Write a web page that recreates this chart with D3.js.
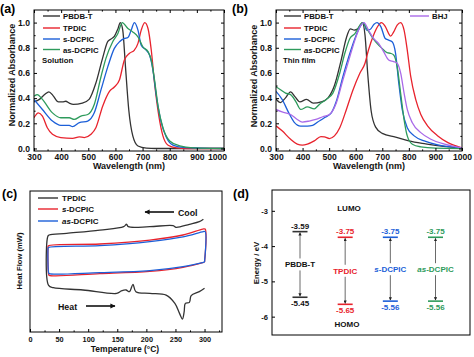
<!DOCTYPE html>
<html><head><meta charset="utf-8">
<script src="https://cdn.jsdelivr.net/npm/d3@7"></script>
<style>
body{margin:0;background:#fff}
svg text{font-family:"Liberation Sans",Arial,Helvetica,sans-serif;font-weight:bold}
</style>
</head><body>
<svg id="chart" width="474" height="357"></svg>
<script>
// ---------- DATA ----------
// (a) solution absorbance: [wavelength nm, normalized absorbance]
const solPBDBT = [[300,0.37],[320,0.39],[340,0.43],[355,0.45],[370,0.42],[390,0.37],[405,0.37],[417,0.375],[430,0.36],[445,0.35],[478,0.36],[503,0.39],[528,0.52],[553,0.72],[572,0.85],[584,0.87],[596,0.89],[609,0.95],[618,1.0],[627,0.94],[637,0.65],[649,0.31],[664,0.10],[683,0.02],[714,0.003],[750,0],[1000,0]];
const solTPDIC = [[300,0.244],[316,0.283],[331,0.257],[349,0.165],[368,0.113],[399,0.087],[442,0.081],[467,0.092],[485,0.087],[510,0.113],[528,0.165],[553,0.336],[578,0.454],[596,0.488],[615,0.546],[633,0.703],[652,0.756],[670,0.782],[683,0.835],[695,0.94],[708,1.0],[720,0.953],[732,0.782],[744,0.52],[760,0.257],[775,0.10],[794,0.026],[825,0.005],[860,0],[1000,0]];
const solSDCPIC = [[300,0.39],[331,0.31],[368,0.218],[399,0.184],[430,0.184],[442,0.173],[467,0.205],[498,0.218],[522,0.283],[547,0.467],[572,0.65],[596,0.795],[615,0.848],[633,0.874],[646,0.882],[658,0.94],[670,1.0],[683,0.94],[695,0.82],[714,0.78],[726,0.74],[738,0.625],[751,0.415],[769,0.205],[788,0.087],[812,0.026],[849,0.008],[911,0.003],[1000,0]];
const solASDCPIC = [[300,0.415],[312,0.428],[331,0.39],[368,0.283],[399,0.244],[430,0.244],[448,0.231],[473,0.257],[498,0.27],[522,0.35],[547,0.572],[565,0.716],[590,0.848],[609,0.913],[625,1.0],[646,0.953],[664,0.926],[683,0.887],[701,0.808],[720,0.769],[732,0.703],[744,0.546],[757,0.336],[775,0.165],[800,0.06],[837,0.021],[886,0.005],[1000,0]];
// (b) thin film absorbance
const filmPBDBT = [[300,0.394],[317,0.365],[335,0.40],[355,0.45],[372,0.41],[390,0.37],[415,0.39],[440,0.36],[470,0.37],[495,0.40],[520,0.50],[545,0.70],[565,0.88],[580,0.95],[595,0.94],[608,0.95],[625,1.0],[635,0.9],[645,0.6],[658,0.3],[675,0.17],[700,0.12],[750,0.09],[800,0.06],[850,0.04],[900,0.025],[950,0.012],[1000,0.003]];
const filmTPDIC = [[300,0.18],[323,0.14],[355,0.073],[380,0.034],[399,0.026],[418,0.034],[444,0.06],[469,0.094],[482,0.092],[501,0.079],[520,0.10],[540,0.165],[565,0.31],[590,0.467],[616,0.6],[635,0.677],[648,0.782],[667,0.9],[686,0.98],[696,1.0],[711,0.97],[724,0.913],[731,0.892],[743,0.926],[756,0.98],[769,1.0],[782,0.94],[794,0.782],[807,0.572],[826,0.388],[845,0.27],[871,0.178],[909,0.10],[947,0.047],[1000,0.005]];
const filmSDCPIC = [[300,0.454],[323,0.39],[348,0.283],[368,0.21],[393,0.178],[418,0.178],[438,0.184],[457,0.21],[482,0.244],[508,0.283],[527,0.375],[552,0.572],[578,0.756],[597,0.874],[616,0.966],[629,1.0],[641,0.94],[654,0.945],[669,0.987],[680,1.0],[695,0.966],[711,0.874],[724,0.861],[737,0.848],[750,0.756],[762,0.52],[775,0.31],[794,0.165],[820,0.10],[858,0.06],[909,0.029],[960,0.013],[1000,0.005]];
const filmASDCPIC = [[300,0.49],[317,0.467],[336,0.44],[355,0.428],[374,0.375],[393,0.31],[418,0.33],[444,0.315],[463,0.35],[489,0.39],[514,0.44],[540,0.6],[559,0.756],[578,0.874],[597,0.913],[616,0.98],[626,1.0],[641,0.953],[661,0.887],[680,0.835],[699,0.795],[718,0.761],[731,0.756],[743,0.743],[756,0.65],[769,0.44],[782,0.23],[794,0.10],[813,0.034],[845,0.013],[900,0.003],[1000,0]];
const filmBHJ = [[300,0.31],[323,0.29],[355,0.27],[380,0.23],[399,0.21],[425,0.218],[450,0.231],[476,0.252],[501,0.27],[527,0.362],[552,0.546],[578,0.73],[597,0.861],[616,0.966],[631,1.0],[648,0.94],[667,0.874],[686,0.835],[705,0.769],[724,0.703],[743,0.69],[756,0.677],[769,0.6],[782,0.44],[794,0.31],[813,0.205],[845,0.126],[883,0.073],[934,0.034],[1000,0.005]];
const wlTicks = [300,400,500,600,700,800,900,1000];
const absTicks = [0,0.2,0.4,0.6,0.8,1.0];
// (c) DSC loops: [temperature °C, heat flow (arb.)], cooling (right->left) then heating (left->right)
const dscTPDIC = [[298,80],[291,78.3],[274,76.4],[251,74.2],[246,75.4],[206,74.7],[169,74.7],[166,76.4],[161,74.7],[120,72.3],[63,70],[33,68.8],[31,68.2],[32,33],[40,31.4],[91,29.8],[149,27.4],[157,29.1],[165,29.8],[171,28.6],[177,33.8],[182,28.6],[206,27.4],[234,26.2],[249,20.3],[257,13.2],[262,9.2],[265,14.4],[267,20.3],[274,21],[277,25.8],[291,28.6],[300,31]];
const dscSDCPIC = [[300,49.6],[301,73],[297,73],[263,68.8],[206,65.2],[120,62.4],[31.4,61],[31,60],[32,41],[33,40.2],[120,41.4],[206,43],[263,45.9],[300,49.6]];
const dscASDCPIC = [[300,49.6],[301,71.2],[298,71.2],[263,67.4],[206,64.1],[120,61.2],[31.4,59.8],[31,59],[32,42],[33,41.4],[120,42.1],[206,43.5],[263,46.3],[300,49.6]];
const tempTicks = [0,50,100,150,200,250,300];
// (d) energy levels
const materials = ["PBDB-T","TPDIC","s-DCPIC","as-DCPIC"];
const lumo = [-3.59,-3.75,-3.75,-3.75];
const homo = [-5.45,-5.65,-5.56,-5.56];
const energyTicks = [-3,-4,-5,-6];

// ---------- STYLE ----------
const C = {black:"#333333", red:"#e8232d", blue:"#1c5fd8", green:"#2e9b5c", purple:"#a96ae8"};
const svg = d3.select("#chart");
const defs = svg.append("defs");
defs.append("marker").attr("id","ah").attr("viewBox","0 0 10 10").attr("refX",9).attr("refY",5)
  .attr("markerWidth",4).attr("markerHeight",4).attr("orient","auto-start-reverse")
  .append("path").attr("d","M0,0L10,5L0,10z").attr("fill","#222");
defs.append("marker").attr("id","ahBig").attr("viewBox","0 0 10 10").attr("refX",9).attr("refY",5)
  .attr("markerWidth",3.2).attr("markerHeight",3.2).attr("markerUnits","strokeWidth").attr("orient","auto")
  .append("path").attr("d","M0,0L10,5L0,10z").attr("fill","#111");

function styleAxis(g, fs){
  g.select(".domain").remove();
  g.selectAll("line").attr("stroke","#000");
  g.selectAll("text").attr("font-size",fs).attr("font-family",null).attr("fill","#111");
}
function labelText(g, parts){ // parts: [[text, italic]]
  parts.forEach(([t,it])=>g.append("tspan").text(t).attr("font-style", it?"italic":null));
}

// ---------- SPECTRA PANELS ----------
function spectrum(fr, series, legendRows, note, extraLegend){
  const x = d3.scaleLinear().domain([300,1000]).range([fr.l, fr.r]);
  const y = d3.scaleLinear().domain([-0.02,1.1]).range([fr.b, fr.t]);
  const g = svg.append("g");
  const line = d3.line().x(d=>x(d[0])).y(d=>y(d[1])).curve(d3.curveMonotoneX);
  g.append("clipPath").attr("id","clip"+fr.l).append("rect").attr("x",fr.l).attr("y",fr.t).attr("width",fr.r-fr.l).attr("height",fr.b-fr.t);
  const cg = g.append("g").attr("clip-path",`url(#clip${fr.l})`);
  series.forEach(s=>cg.append("path").attr("d",line(s.data)).attr("fill","none").attr("stroke",s.color).attr("stroke-width",1.3));
  // axes
  const minorX = d3.range(350,1000,100);
  const minorY = d3.range(0.1,1.1,0.2);
  const xb = g.append("g").attr("transform",`translate(0,${fr.b})`).call(d3.axisBottom(x).tickValues(wlTicks).tickSize(-3).tickPadding(3).tickFormat(d3.format("d")));
  styleAxis(xb, 8.6);
  if(fr.lastDx) xb.selectAll("text").filter(d=>d===1000).attr("dx",fr.lastDx);
  styleAxis(g.append("g").attr("transform",`translate(0,${fr.b})`).call(d3.axisBottom(x).tickValues(minorX).tickSize(-1.6).tickFormat("")),8);
  styleAxis(g.append("g").attr("transform",`translate(0,${fr.t})`).call(d3.axisTop(x).tickValues(wlTicks).tickSize(-3).tickFormat("")),8);
  styleAxis(g.append("g").attr("transform",`translate(0,${fr.t})`).call(d3.axisTop(x).tickValues(minorX).tickSize(-1.6).tickFormat("")),8);
  styleAxis(g.append("g").attr("transform",`translate(${fr.l},0)`).call(d3.axisLeft(y).tickValues(absTicks).tickSize(-3).tickPadding(4).tickFormat(d3.format(".1f"))), 8.6);
  styleAxis(g.append("g").attr("transform",`translate(${fr.l},0)`).call(d3.axisLeft(y).tickValues(minorY).tickSize(-1.6).tickFormat("")),8);
  styleAxis(g.append("g").attr("transform",`translate(${fr.r},0)`).call(d3.axisRight(y).tickValues(absTicks).tickSize(-3).tickFormat("")),8);
  styleAxis(g.append("g").attr("transform",`translate(${fr.r},0)`).call(d3.axisRight(y).tickValues(minorY).tickSize(-1.6).tickFormat("")),8);
  g.append("rect").attr("x",fr.l).attr("y",fr.t).attr("width",fr.r-fr.l).attr("height",fr.b-fr.t).attr("fill","none").attr("stroke","#000").attr("stroke-width",1);
  // titles
  g.append("text").attr("x",(fr.l+fr.r)/2).attr("y",169).attr("text-anchor","middle").attr("font-size",9).attr("fill","#111").text("Wavelength (nm)");
  g.append("text").attr("transform",`translate(${fr.l-19},${fr.ytitle}) rotate(-90)`).attr("text-anchor","middle").attr("font-size",9).attr("fill","#111").text("Normalized Absorbance");
  // legend
  legendRows.forEach((r,i)=>{
    const yy = [16,28,39,49.5][i];
    g.append("line").attr("x1",fr.leg).attr("x2",fr.leg+17).attr("y1",yy).attr("y2",yy).attr("stroke",r.color).attr("stroke-width",1.4);
    const t = g.append("text").attr("x",fr.leg+20).attr("y",yy+3).attr("font-size",7.8).attr("fill","#111");
    labelText(t, r.parts);
  });
  g.append("text").attr("x",fr.leg-1).attr("y",63).attr("font-size",7.8).attr("fill","#111").text(note);
  if(extraLegend){
    g.append("line").attr("x1",extraLegend.x).attr("x2",extraLegend.x+19).attr("y1",16).attr("y2",16).attr("stroke",extraLegend.color).attr("stroke-width",1.4);
    g.append("text").attr("x",extraLegend.x+22).attr("y",19).attr("font-size",7.8).attr("fill","#111").text(extraLegend.label);
  }
}

spectrum({l:34,r:224,t:10,b:151,leg:43,ytitle:75,lastDx:-7},
  [{data:solPBDBT,color:C.black},{data:solTPDIC,color:C.red},{data:solSDCPIC,color:C.blue},{data:solASDCPIC,color:C.green}],
  [{color:C.black,parts:[["PBDB-T",0]]},{color:C.red,parts:[["TPDIC",0]]},{color:C.blue,parts:[["s-DCPIC",0]]},{color:C.green,parts:[["as-DCPIC",0]]}],
  "Solution");
spectrum({l:276,r:462,t:10,b:151,leg:284,ytitle:76},
  [{data:filmPBDBT,color:C.black},{data:filmTPDIC,color:C.red},{data:filmSDCPIC,color:C.blue},{data:filmASDCPIC,color:C.green},{data:filmBHJ,color:C.purple}],
  [{color:C.black,parts:[["PBDB-T",0]]},{color:C.red,parts:[["TPDIC",0]]},{color:C.blue,parts:[["s",1],["-DCPIC",0]]},{color:C.green,parts:[["as",1],["-DCPIC",0]]}],
  "Thin film",{x:410,color:C.purple,label:"BHJ"});

// ---------- (c) DSC ----------
(function(){
  const fr = {l:30,r:222,t:191,b:332};
  const x = d3.scaleLinear().domain([0,330]).range([fr.l,fr.r]);
  const y = d3.scaleLinear().domain([0,100]).range([fr.b,fr.t]);
  const g = svg.append("g");
  const line = d3.line().x(d=>x(d[0])).y(d=>y(d[1])).curve(d3.curveCatmullRom.alpha(0.5));
  [[dscTPDIC,C.black],[dscSDCPIC,C.red],[dscASDCPIC,C.blue]].forEach(([d,c])=>
    g.append("path").attr("d",line(d)).attr("fill","none").attr("stroke",c).attr("stroke-width",1.3));
  styleAxis(g.append("g").attr("transform",`translate(0,${fr.b})`).call(d3.axisBottom(x).tickValues(tempTicks).tickSize(-3).tickPadding(4.5).tickFormat(d3.format("d"))),7.3);
  styleAxis(g.append("g").attr("transform",`translate(0,${fr.b})`).call(d3.axisBottom(x).tickValues(d3.range(25,330,50)).tickSize(-1.6).tickFormat("")),7);
  g.append("rect").attr("x",fr.l).attr("y",fr.t).attr("width",fr.r-fr.l).attr("height",fr.b-fr.t).attr("fill","none").attr("stroke","#000").attr("stroke-width",1);
  g.append("text").attr("x",125).attr("y",352).attr("text-anchor","middle").attr("font-size",8.5).attr("fill","#111").text("Temperature (°C)");
  g.append("text").attr("transform",`translate(22,261) rotate(-90)`).attr("text-anchor","middle").attr("font-size",7.6).attr("fill","#111").text("Heat Flow (mW)");
  const leg = [[C.black,[["TPDIC",0]],198],[C.red,[["s",1],["-DCPIC",0]],209],[C.blue,[["as",1],["-DCPIC",0]],221]];
  leg.forEach(([c,p,yy])=>{
    g.append("line").attr("x1",38).attr("x2",58).attr("y1",yy).attr("y2",yy).attr("stroke",c).attr("stroke-width",1.4);
    labelText(g.append("text").attr("x",62).attr("y",yy+3).attr("font-size",8).attr("fill","#111"), p);
  });
  g.append("line").attr("x1",174).attr("x2",145).attr("y1",212).attr("y2",212).attr("stroke","#111").attr("stroke-width",1.6).attr("marker-end","url(#ahBig)");
  g.append("text").attr("x",178).attr("y",215.5).attr("font-size",8.8).attr("fill","#111").text("Cool");
  g.append("line").attr("x1",86).attr("x2",115).attr("y1",306).attr("y2",306).attr("stroke","#111").attr("stroke-width",1.6).attr("marker-end","url(#ahBig)");
  g.append("text").attr("x",58).attr("y",309.5).attr("font-size",8.8).attr("fill","#111").text("Heat");
})();

// ---------- (d) energy levels ----------
(function(){
  const fr = {l:272,r:470,t:190,b:335};
  const x = d3.scalePoint().domain(materials).range([300,435.5]);
  const y = d3.scaleLinear().domain([-6.52,-2.41]).range([fr.b,fr.t]);
  const g = svg.append("g");
  const cols = [C.black, C.red, C.blue, C.green];
  const txtCols = ["#111", C.red, C.blue, C.green];
  g.append("rect").attr("x",fr.l).attr("y",fr.t).attr("width",fr.r-fr.l).attr("height",fr.b-fr.t).attr("fill","none").attr("stroke","#000").attr("stroke-width",1);
  styleAxis(g.append("g").attr("transform",`translate(${fr.l},0)`).call(d3.axisLeft(y).tickValues(energyTicks).tickSize(-3).tickPadding(4).tickFormat(d=>String(d))),7.5);
  g.append("text").attr("transform",`translate(259,263) rotate(-90)`).attr("text-anchor","middle").attr("font-size",7.8).attr("fill","#111").text("Energy / eV");
  const names = [[["PBDB-T",0]],[["TPDIC",0]],[["s",1],["-DCPIC",0]],[["as",1],["-DCPIC",0]]];
  materials.forEach((m,i)=>{
    const cx = x(m), yl = y(lumo[i]), yh = y(homo[i]), ym = (yl+yh)/2;
    g.append("line").attr("x1",cx-7.5).attr("x2",cx+7.5).attr("y1",yl).attr("y2",yl).attr("stroke",cols[i]).attr("stroke-width",1.6);
    g.append("line").attr("x1",cx-7.5).attr("x2",cx+7.5).attr("y1",yh).attr("y2",yh).attr("stroke",cols[i]).attr("stroke-width",1.6);
    g.append("line").attr("x1",cx).attr("x2",cx).attr("y1",ym-6).attr("y2",yl+1).attr("stroke","#444").attr("stroke-width",0.8).attr("marker-end","url(#ah)");
    g.append("line").attr("x1",cx).attr("x2",cx).attr("y1",ym+6).attr("y2",yh-1).attr("stroke","#444").attr("stroke-width",0.8).attr("marker-end","url(#ah)");
    labelText(g.append("text").attr("x",cx).attr("y",ym+3).attr("text-anchor","middle").attr("font-size",8).attr("fill",txtCols[i]), names[i]);
    g.append("text").attr("x",cx).attr("y",yl-3).attr("text-anchor","middle").attr("font-size",8).attr("fill",txtCols[i]).text(lumo[i].toFixed(2));
    g.append("text").attr("x",cx).attr("y",yh+9).attr("text-anchor","middle").attr("font-size",8).attr("fill",txtCols[i]).text(homo[i].toFixed(2));
  });
  g.append("text").attr("x",349).attr("y",211).attr("text-anchor","middle").attr("font-size",8).attr("fill","#111").text("LUMO");
  g.append("text").attr("x",347).attr("y",327).attr("text-anchor","middle").attr("font-size",8).attr("fill","#111").text("HOMO");
})();

// ---------- panel labels ----------
[["(a)",0,13],["(b)",232,13],["(c)",2,198],["(d)",233,198]].forEach(([t,xx,yy])=>
  svg.append("text").attr("x",xx).attr("y",yy).attr("font-size",12.5).attr("fill","#000").text(t));
</script>
</body></html>
